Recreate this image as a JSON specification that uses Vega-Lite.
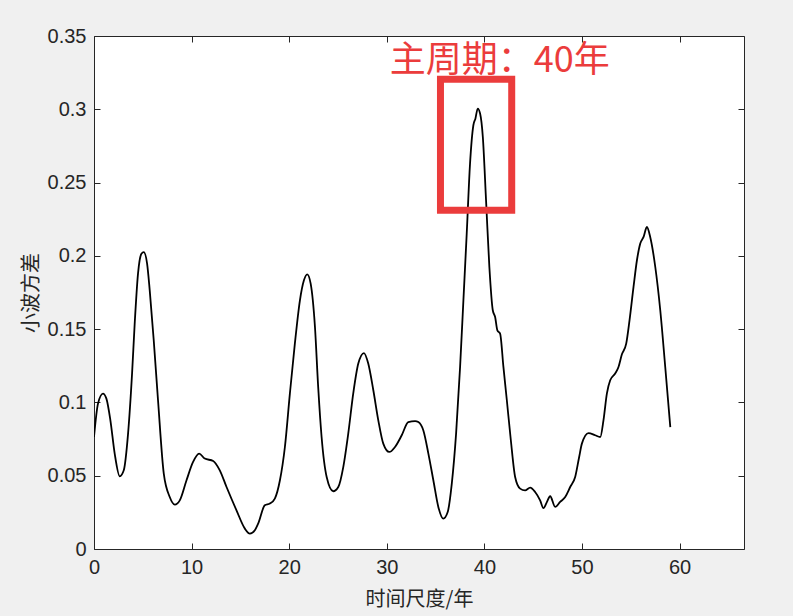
{
  "$schema": "https://vega.github.io/schema/vega-lite/v6.json",
  "autosize": {"type": "none"},
  "padding": {"left": 94, "top": 36, "right": 49, "bottom": 67},
  "width": 650,
  "height": 513,
  "background": "#f0f0f0",
  "config": {
    "view": {"fill": "white", "stroke": "#262626", "strokeWidth": 1},
    "axis": {
      "grid": false,
      "domain": false,
      "labelFlush": false,
      "labelOverlap": false,
      "tickColor": "#262626",
      "tickSize": -6,
      "labelColor": "#262626",
      "labelFont": "Liberation Sans",
      "labelFontSize": 20,
      "titleFont": "Noto Sans CJK SC",
      "titleFontSize": 20,
      "titleFontWeight": "normal",
      "titleColor": "#262626"
    }
  },
  "datasets": {
    "curve": [
      {"scale": 0.0, "variance": 0.0764},
      {"scale": 0.41, "variance": 0.0992},
      {"scale": 0.92, "variance": 0.106},
      {"scale": 1.27, "variance": 0.1026},
      {"scale": 1.68, "variance": 0.0878},
      {"scale": 2.12, "variance": 0.0651},
      {"scale": 2.64, "variance": 0.0496},
      {"scale": 3.05, "variance": 0.0537},
      {"scale": 3.49, "variance": 0.0787},
      {"scale": 3.9, "variance": 0.1197},
      {"scale": 4.17, "variance": 0.1538},
      {"scale": 4.51, "variance": 0.1879},
      {"scale": 4.86, "variance": 0.2015},
      {"scale": 5.1, "variance": 0.2026},
      {"scale": 5.44, "variance": 0.1947},
      {"scale": 5.71, "variance": 0.1765},
      {"scale": 6.12, "variance": 0.1424},
      {"scale": 6.56, "variance": 0.1015},
      {"scale": 7.15, "variance": 0.0514},
      {"scale": 7.76, "variance": 0.0355},
      {"scale": 8.28, "variance": 0.0303},
      {"scale": 8.79, "variance": 0.0332},
      {"scale": 9.48, "variance": 0.0469},
      {"scale": 10.15, "variance": 0.0594},
      {"scale": 10.77, "variance": 0.0651},
      {"scale": 11.35, "variance": 0.0617},
      {"scale": 12.21, "variance": 0.0601},
      {"scale": 12.89, "variance": 0.0537},
      {"scale": 13.58, "variance": 0.0423},
      {"scale": 14.6, "variance": 0.0264},
      {"scale": 15.46, "variance": 0.0139},
      {"scale": 15.97, "variance": 0.0105},
      {"scale": 16.48, "variance": 0.0128},
      {"scale": 16.82, "variance": 0.0173},
      {"scale": 17.5, "variance": 0.0298},
      {"scale": 18.02, "variance": 0.031},
      {"scale": 18.53, "variance": 0.0344},
      {"scale": 19.05, "variance": 0.0469},
      {"scale": 19.56, "variance": 0.0696},
      {"scale": 20.07, "variance": 0.106},
      {"scale": 20.58, "variance": 0.1401},
      {"scale": 21.1, "variance": 0.1697},
      {"scale": 21.51, "variance": 0.1833},
      {"scale": 21.85, "variance": 0.1874},
      {"scale": 22.2, "variance": 0.181},
      {"scale": 22.64, "variance": 0.1515},
      {"scale": 22.97, "variance": 0.1105},
      {"scale": 23.32, "variance": 0.0764},
      {"scale": 23.84, "variance": 0.0491},
      {"scale": 24.51, "variance": 0.0394},
      {"scale": 25.03, "variance": 0.0423},
      {"scale": 25.54, "variance": 0.0559},
      {"scale": 26.05, "variance": 0.0787},
      {"scale": 26.56, "variance": 0.106},
      {"scale": 27.08, "variance": 0.1265},
      {"scale": 27.66, "variance": 0.1337},
      {"scale": 28.1, "variance": 0.1265},
      {"scale": 28.62, "variance": 0.1083},
      {"scale": 29.13, "variance": 0.0878},
      {"scale": 29.64, "variance": 0.0719},
      {"scale": 30.26, "variance": 0.0662},
      {"scale": 30.84, "variance": 0.0696},
      {"scale": 31.53, "variance": 0.0776},
      {"scale": 32.2, "variance": 0.0866},
      {"scale": 32.9, "variance": 0.0873},
      {"scale": 33.23, "variance": 0.0866},
      {"scale": 33.74, "variance": 0.081},
      {"scale": 34.26, "variance": 0.0651},
      {"scale": 34.77, "variance": 0.0469},
      {"scale": 35.28, "variance": 0.0287},
      {"scale": 35.79, "variance": 0.0207},
      {"scale": 36.24, "variance": 0.0252},
      {"scale": 36.66, "variance": 0.0446},
      {"scale": 37.1, "variance": 0.0787},
      {"scale": 37.51, "variance": 0.1242},
      {"scale": 37.85, "variance": 0.1697},
      {"scale": 38.19, "variance": 0.2152},
      {"scale": 38.53, "variance": 0.263},
      {"scale": 38.87, "variance": 0.2891},
      {"scale": 39.08, "variance": 0.2936},
      {"scale": 39.32, "variance": 0.3005},
      {"scale": 39.56, "variance": 0.2971},
      {"scale": 39.84, "variance": 0.2811},
      {"scale": 40.17, "variance": 0.2379},
      {"scale": 40.51, "variance": 0.1924},
      {"scale": 40.86, "variance": 0.1629},
      {"scale": 41.1, "variance": 0.1583},
      {"scale": 41.33, "variance": 0.1492},
      {"scale": 41.61, "variance": 0.147},
      {"scale": 41.95, "variance": 0.1242},
      {"scale": 42.3, "variance": 0.1015},
      {"scale": 42.71, "variance": 0.0742},
      {"scale": 43.15, "variance": 0.0491},
      {"scale": 43.66, "variance": 0.0412},
      {"scale": 44.17, "variance": 0.04},
      {"scale": 44.69, "variance": 0.0419},
      {"scale": 45.2, "variance": 0.0389},
      {"scale": 45.71, "variance": 0.0332},
      {"scale": 46.05, "variance": 0.0279},
      {"scale": 46.4, "variance": 0.032},
      {"scale": 46.74, "variance": 0.036},
      {"scale": 47.25, "variance": 0.0287},
      {"scale": 47.76, "variance": 0.0321},
      {"scale": 48.28, "variance": 0.0355},
      {"scale": 48.79, "variance": 0.0423},
      {"scale": 49.3, "variance": 0.0491},
      {"scale": 49.71, "variance": 0.0628},
      {"scale": 49.99, "variance": 0.0719},
      {"scale": 50.67, "variance": 0.0791},
      {"scale": 51.35, "variance": 0.0776},
      {"scale": 51.87, "variance": 0.0764},
      {"scale": 52.2, "variance": 0.0878},
      {"scale": 52.55, "variance": 0.1060},
      {"scale": 52.89, "variance": 0.1151},
      {"scale": 53.4, "variance": 0.1197},
      {"scale": 53.74, "variance": 0.1242},
      {"scale": 54.09, "variance": 0.1328},
      {"scale": 54.53, "variance": 0.1401},
      {"scale": 54.87, "variance": 0.156},
      {"scale": 55.28, "variance": 0.1788},
      {"scale": 55.63, "variance": 0.197},
      {"scale": 55.97, "variance": 0.2084},
      {"scale": 56.31, "variance": 0.2129},
      {"scale": 56.65, "variance": 0.2197},
      {"scale": 56.99, "variance": 0.2129},
      {"scale": 57.51, "variance": 0.1924},
      {"scale": 58.02, "variance": 0.1629},
      {"scale": 58.53, "variance": 0.1242},
      {"scale": 59.05, "variance": 0.0832}
    ],
    "box": [
      {"x1": 35.5, "x2": 42.8, "y1": 0.2311, "y2": 0.3205}
    ],
    "note": [
      {"x": 30.3, "y": 0.3252, "label": "主周期：40年"}
    ]
  },
  "layer": [
    {
      "data": {"name": "curve"},
      "mark": {"type": "line", "color": "black", "strokeWidth": 1.8, "interpolate": "monotone", "clip": true},
      "encoding": {
        "x": {
          "field": "scale", "type": "quantitative",
          "scale": {"domain": [0, 66.6], "nice": false, "zero": false},
          "axis": {"orient": "bottom", "values": [0, 10, 20, 30, 40, 50, 60], "labelPadding": 14, "title": "时间尺度/年", "titlePadding": 12}
        },
        "y": {
          "field": "variance", "type": "quantitative",
          "scale": {"domain": [0, 0.35], "nice": false},
          "axis": {"orient": "left", "values": [0, 0.05, 0.1, 0.15, 0.2, 0.25, 0.3, 0.35], "format": "~g", "labelPadding": 14, "title": "小波方差", "titlePadding": 6}
        }
      }
    },
    {
      "data": {"name": "box"},
      "mark": {"type": "rect", "filled": false, "stroke": "#eb3c3c", "strokeWidth": 7},
      "encoding": {
        "x": {
          "field": "x1", "type": "quantitative",
          "scale": {"domain": [0, 66.6], "nice": false, "zero": false},
          "axis": {"orient": "top", "values": [0, 10, 20, 30, 40, 50, 60], "labels": false, "title": null}
        },
        "x2": {"field": "x2"},
        "y": {
          "field": "y1", "type": "quantitative",
          "scale": {"domain": [0, 0.35], "nice": false},
          "axis": {"orient": "right", "values": [0, 0.05, 0.1, 0.15, 0.2, 0.25, 0.3, 0.35], "labels": false, "title": null}
        },
        "y2": {"field": "y2"}
      }
    },
    {
      "data": {"name": "note"},
      "mark": {"type": "text", "align": "left", "baseline": "alphabetic", "font": "Noto Sans CJK SC", "fontSize": 36, "color": "#eb3c3c"},
      "encoding": {
        "x": {"field": "x", "type": "quantitative", "axis": null},
        "y": {"field": "y", "type": "quantitative", "axis": null},
        "text": {"field": "label"}
      }
    }
  ],
  "resolve": {"axis": {"x": "independent", "y": "independent"}}
}
